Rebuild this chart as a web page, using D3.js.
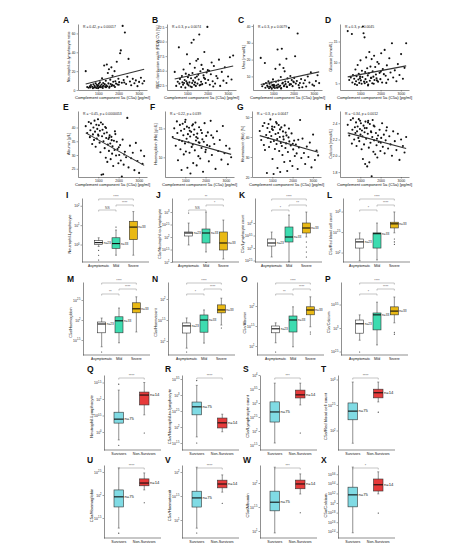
<!DOCTYPE html>
<html>
<head>
<meta charset="utf-8">
<script src="https://cdnjs.cloudflare.com/ajax/libs/d3/7.8.5/d3.min.js"></script>
<style>
body { margin: 0; background: #ffffff; }
svg { font-family: "Liberation Sans", Arial, sans-serif; }
</style>
</head>
<body>
<svg id="fig" width="474" height="552"></svg>
<script>
// ---- scatter data (A-H): same patients, C5a on x ----
const c5aValues = [
 380, 455, 530, 585, 610, 640, 700, 735, 760, 790,
 815, 840, 870, 905, 925, 950, 985, 1010, 1030, 1065,
 1080, 1105, 1130, 1160, 1185, 1210, 1240, 1255, 1290, 1315,
 1340, 1370, 1390, 1420, 1445, 1470, 1500, 1525, 1560, 1590,
 1610, 1645, 1680, 1700, 1735, 1770, 1800, 1840, 1875, 1910,
 1950, 1990, 2030, 2075, 2110, 2160, 2200, 2250, 2310, 2370,
 2430, 2490, 2560, 2620, 2700, 2780, 2850, 2930, 3010, 3100,
 3180, 3260, 1220, 1380, 1540, 1660, 1820, 2010, 2280, 990];
const c5aTicks = [1000, 2000, 3000];

const nlrValues = [
 20, 3.1, 2.4, 4.0, 2.8, 5.2, 3.5, 1.9, 6.1, 2.6,
 4.4, 3.0, 7.2, 2.2, 5.5, 3.8, 4.9, 2.7, 6.6, 3.3,
 8.1, 4.2, 2.9, 5.8, 12.5, 3.6, 7.4, 4.5, 26, 6.2,
 3.4, 9.8, 5.1, 27, 4.0, 18, 7.0, 22, 3.7, 11,
 6.4, 24, 5.4, 15, 8.8, 4.6, 20, 9.3, 6.8, 30,
 5.9, 12, 8.3, 39, 42, 7.7, 68, 10.5, 61, 6.3,
 14, 33, 9.0, 5.0, 11.8, 7.1, 10.2, 4.1, 8.6, 13,
 6.9, 9.6, 2.1, 3.0, 2.5, 4.3, 3.2, 5.6, 7.9, 1.8];
const rdwValues = [
 14.8, 12.4, 13.1, 19.0, 12.8, 13.6, 12.2, 14.1, 13.0, 12.6,
 15.2, 12.9, 13.4, 12.1, 14.5, 13.2, 17.8, 12.7, 13.9, 12.5,
 14.3, 13.0, 16.2, 12.3, 13.7, 19.8, 12.9, 14.6, 13.3, 20.3,
 12.6, 15.5, 13.8, 12.4, 16.7, 14.0, 12.8, 17.0, 13.5, 21.2,
 12.5, 14.9, 13.1, 16.0, 12.7, 15.3, 14.2, 18.2, 13.6, 12.9,
 14.7, 22.5, 13.4, 15.0, 12.6, 14.4, 16.4, 13.2, 15.8, 12.8,
 14.1, 13.7, 16.9, 12.4, 14.8, 13.3, 15.6, 12.9, 14.0, 17.3,
 13.5, 17.6, 12.2, 13.0, 14.3, 12.6, 13.8, 15.1, 12.3, 12.9];
const ureaValues = [
 21.0, 4.1, 5.3, 18.0, 3.2, 6.0, 4.5, 3.8, 7.1, 2.9,
 5.6, 4.0, 3.5, 6.4, 2.7, 4.8, 8.2, 3.6, 5.0, 4.3,
 3.1, 14.5, 6.8, 4.6, 3.3, 26.0, 5.2, 7.5, 3.9, 17.0,
 4.4, 9.6, 3.0, 26.5, 5.8, 6.2, 15.0, 4.1, 13.0, 7.0,
 5.5, 20.5, 3.7, 8.8, 6.6, 39.0, 4.9, 10.2, 5.3, 7.8,
 4.2, 6.9, 9.1, 22.0, 5.7, 7.3, 35.5, 4.8, 6.1, 8.4,
 3.5, 5.9, 7.7, 4.0, 9.9, 6.3, 12.5, 5.1, 4.4, 7.2,
 10.7, 6.0, 3.4, 2.8, 4.7, 3.9, 5.4, 6.5, 3.2, 4.6];
const glucoseValues = [
 17.5, 5.8, 6.4, 16.8, 5.2, 7.0, 6.1, 4.8, 8.3, 5.5,
 6.7, 4.6, 9.4, 5.9, 7.3, 5.1, 6.2, 10.5, 5.7, 4.9,
 8.0, 6.5, 18.6, 17.0, 5.4, 16.0, 7.7, 6.0, 11.2, 5.3,
 8.6, 6.9, 4.7, 7.4, 12.5, 5.6, 9.0, 6.3, 10.8, 5.0,
 7.9, 6.6, 11.6, 5.8, 8.9, 7.1, 6.2, 10.1, 5.4, 9.7,
 7.5, 6.0, 12.2, 5.2, 8.4, 7.2, 13.0, 6.8, 9.3, 5.9,
 11.0, 7.6, 14.6, 6.4, 8.1, 5.5, 9.6, 7.0, 12.0, 6.1,
 8.7, 14.6, 5.0, 4.5, 6.3, 4.9, 5.7, 7.8, 5.1, 6.6];
const albuminValues = [
 40.5, 38.0, 42.0, 36.5, 39.0, 41.5, 34.0, 37.5, 40.0, 35.5,
 42.5, 38.5, 33.0, 41.0, 36.0, 39.5, 43.0, 37.0, 40.8, 34.5,
 38.8, 31.0, 41.8, 22.8, 36.8, 39.2, 23.0, 35.0, 37.8, 32.5,
 40.2, 29.0, 36.2, 38.2, 27.5, 33.8, 35.8, 31.5, 37.2, 34.2,
 28.5, 36.6, 30.5, 33.2, 26.0, 35.2, 31.8, 37.6, 29.8, 34.8,
 32.2, 27.0, 30.0, 33.6, 28.0, 22.2, 35.6, 26.5, 31.2, 29.2,
 43.5, 25.5, 33.4, 28.8, 30.8, 24.5, 34.4, 27.8, 23.5, 31.6,
 26.8, 29.6, 41.2, 39.8, 36.4, 35.4, 38.6, 32.8, 30.2, 37.4];
const hbValues = [
 13.5, 15.0, 12.0, 16.2, 14.2, 9.5, 13.0, 15.6, 11.4, 14.6,
 7.8, 12.8, 15.8, 13.8, 10.5, 14.9, 12.4, 16.5, 11.0, 13.2,
 15.3, 8.2, 14.0, 12.6, 15.1, 10.8, 13.6, 7.2, 14.4, 11.8,
 15.5, 12.2, 9.0, 13.9, 14.8, 11.2, 16.0, 12.9, 8.6, 14.1,
 13.3, 10.2, 15.2, 12.5, 9.8, 14.7, 11.6, 13.1, 7.5, 12.7,
 15.9, 10.9, 13.7, 12.1, 14.3, 9.3, 11.9, 16.3, 10.4, 13.4,
 12.3, 8.0, 14.5, 11.1, 13.0, 9.6, 15.4, 10.7, 12.0, 8.8,
 11.5, 10.0, 14.6, 15.7, 13.5, 12.6, 14.2, 11.3, 13.8, 16.1];
const hctValues = [
 43.0, 38.5, 45.5, 36.0, 47.0, 33.5, 41.0, 22.0, 44.5, 39.5,
 46.5, 35.0, 42.5, 48.8, 37.5, 40.5, 44.0, 29.0, 43.5, 21.5,
 38.0, 45.0, 34.0, 41.5, 47.5, 36.5, 39.0, 24.5, 42.0, 46.0,
 33.0, 40.0, 22.5, 37.0, 44.8, 35.5, 31.0, 42.8, 38.8, 27.5,
 45.8, 34.5, 36.8, 40.8, 23.0, 32.5, 39.8, 37.8, 28.0, 35.8,
 41.8, 25.5, 33.8, 38.2, 30.5, 36.2, 31.8, 24.0, 34.8, 48.5,
 29.5, 39.2, 32.0, 26.5, 35.2, 30.0, 37.2, 24.8, 41.2, 28.5,
 33.2, 30.8, 46.8, 43.8, 40.2, 42.2, 44.2, 36.6, 38.6, 45.2];
const calciumValues = [
 2.38, 2.25, 2.44, 2.15, 2.32, 2.46, 2.20, 2.35, 2.28, 2.41,
 2.12, 2.30, 2.36, 2.22, 2.45, 2.18, 2.33, 2.26, 2.40, 2.08,
 2.31, 2.24, 1.96, 2.37, 2.14, 2.29, 1.90, 2.42, 2.21, 2.34,
 1.87, 2.27, 2.43, 2.10, 1.92, 2.39, 2.16, 2.30, 1.75, 2.23,
 2.44, 2.05, 2.19, 2.36, 2.02, 2.28, 2.13, 1.98, 2.25, 2.17,
 2.32, 2.06, 2.22, 2.40, 2.11, 2.26, 2.03, 2.19, 2.35, 2.09,
 2.24, 2.14, 2.00, 2.30, 2.18, 2.07, 2.27, 1.95, 2.20, 2.12,
 2.04, 2.23, 2.34, 2.41, 2.29, 2.37, 2.21, 2.16, 2.31, 2.43];

const fitIntercepts = [4.3, 13.3, 4.2, 6.2, 39.6, 13.7, 41.8, 2.307];
const fitSlopes = [0.00545, 0.00077, 0.0026, 0.00091, -0.0041, -0.00098, -0.0029, -0.0000667];
const corrLabels = ["R = 0.42, p = 0.00017", "R = 0.3, p = 0.0074", "R = 0.3, p = 0.0079", "R = 0.3, p = 0.0045",
                    "R = \u22120.45, p = 0.0000053", "R = \u22120.22, p = 0.039", "R = \u22120.3, p = 0.0047", "R = \u22120.34, p = 0.0012"];
const scatterTitles = ["Neutrophil-to-lymphocyte ratio", "RBC distribution width (RDW-CV) [%]", "Urea [mmol/L]", "Glucose [mmol/L]",
                       "Albumin [g/L]", "Haemoglobin (Hb) [g/dL]", "Haematocrit (Hct) [%]", "Calcium [mmol/L]"];
const scatterDomains = [[0, 70], [11.7, 23], [1.9, 41.2], [3.4, 19.2], [22, 46], [6.6, 18], [20, 53], [1.74, 2.55]];
const scatterTicks = [[0, 20, 40, 60], [12.5, 15, 17.5, 20, 22.5], [10, 20, 30, 40], [5, 10, 15],
                      [25, 30, 35, 40], [10, 15], [20, 30, 40, 50], [1.8, 2.0, 2.2, 2.4]];

// ---- box plot data (log10 values): [low whisker, q1, median, q3, high whisker] ----
const severityGroups = ["Asymptomatic", "Mild", "Severe"];
const severityCounts = ["n=23", "n=33", "n=33"];
const outcomeGroups = ["Survivors", "Non-Survivors"];
const outcomeCounts = ["n=75", "n=14"];

const statsI = [[-0.1, 0.0, 0.1, 0.2, 0.35], [-0.55, -0.2, 0.05, 0.35, 0.75], [-0.55, 0.25, 0.9, 1.2, 1.7]];
const outliersI = [[-0.3, -0.55, -0.8], [0.9], []];
const statsJ = [[1.68, 2.04, 2.16, 2.2, 2.56], [1.4, 1.76, 2.16, 2.32, 3.0], [1.12, 1.48, 1.76, 2.2, 2.68]];
const outliersJ = [[2.96], [0.98], []];
const statsK = [[2.64, 3.08, 3.2, 3.36, 3.64], [2.45, 3.24, 3.44, 3.84, 4.32], [3.44, 3.6, 3.8, 4.0, 4.44]];
const outliersK = [[], [], [3.24, 3.04, 2.84, 2.64]];
const statsL = [[1.8, 2.11, 2.26, 2.33, 2.48], [1.82, 2.11, 2.46, 2.48, 2.72], [2.48, 2.6, 2.7, 2.74, 2.99]];
const outliersL = [[], [], [2.33, 2.26, 2.2]];
const statsM = [[1.33, 1.68, 1.9, 1.95, 2.05], [1.43, 1.68, 1.98, 2.08, 2.3], [1.7, 2.18, 2.28, 2.43, 2.58]];
const outliersM = [[1.2], [], []];
const statsN = [[0.83, 1.19, 1.36, 1.43, 1.55], [0.95, 1.21, 1.5, 1.62, 1.74], [1.38, 1.67, 1.74, 1.86, 2.02]];
const outliersN = [[0.74], [], [1.31]];
const statsO = [[1.08, 1.33, 1.43, 1.5, 1.58], [0.98, 1.35, 1.65, 1.75, 1.98], [1.48, 1.78, 1.9, 1.98, 2.23]];
const outliersO = [[0.85], [], [1.35, 1.3]];
const statsP = [[2.74, 2.89, 3.09, 3.17, 3.28], [2.64, 2.96, 3.28, 3.32, 3.55], [3.11, 3.28, 3.36, 3.45, 3.66]];
const outliersP = [[2.49], [], [2.91, 2.87]];

const statsQ = [[-0.24, 0.27, 0.39, 0.6, 1.27], [0.52, 0.82, 1.12, 1.21, 1.5]];
const outliersQ = [[-0.4, 1.45], [-0.03]];
const statsR = [[1.69, 2.38, 2.63, 2.78, 3.3], [1.85, 1.97, 2.13, 2.28, 2.4]];
const outliersR = [[3.45, 1.5], []];
const statsS = [[1.57, 2.32, 2.68, 3.04, 3.71], [2.93, 3.18, 3.29, 3.46, 3.71]];
const outliersS = [[], [1.93]];
const statsT = [[1.75, 2.21, 2.38, 2.54, 2.95], [2.56, 2.64, 2.74, 2.81, 2.95]];
const outliersT = [[], [2.36]];
const statsU = [[1.28, 1.74, 1.96, 2.11, 2.59], [2.11, 2.2, 2.26, 2.35, 2.48]];
const outliersU = [[1.17], [1.83]];
const statsV = [[0.83, 1.27, 1.46, 1.6, 2.1], [1.58, 1.67, 1.75, 1.83, 1.94]];
const outliersV = [[0.73], [1.35]];
const statsW = [[0.96, 1.42, 1.6, 1.83, 2.33], [1.77, 1.88, 1.98, 2.06, 2.19]];
const outliersW = [[], [1.38]];
const statsX = [[2.38, 2.92, 3.17, 3.33, 3.75], [3.19, 3.25, 3.38, 3.5, 3.65]];
const outliersX = [[], [2.79]];

const boxTitles = ["Neutrophil-Lymphocyte", "C5a/Neutrophil-to-lymphocyte", "C5a/Lymphocyte count", "C5a/Red blood cell count",
                   "C5a/Haemoglobin", "C5a/Haematocrit", "C5a/Albumin", "C5a/Calcium"];
// [long bracket, asym-mild, mild-severe]
const severitySig = [["****", "NS", "****"], ["**", "NS", "*"], ["****", "*", "**"], ["****", "*", "****"],
                     ["****", "**", "****"], ["****", "*", "****"], ["****", "**", "****"], ["****", "*", "****"]];
const outcomeSig = ["****", "****", "***", "****", "****", "****", "***", "*"];

const severityDomains = [[-0.9, 2.4], [1, 3.56], [2.44, 5.0], [1.77, 3.33], [1.125, 2.95], [0.667, 2.405], [0.775, 2.6], [2.426, 3.979]];
const severityTicks = [[0, 1, 2], [1, 1.5, 2, 2.5, 3], [2.5, 3, 3.5, 4], [2, 2.5, 3], [1.5, 2, 2.5], [1, 1.5, 2], [1, 1.5, 2], [2.5, 3, 3.5]];
const outcomeDomains = [[-0.545, 1.727], [1.281, 3.625], [1.321, 4.0], [1.618, 3.088], [1.065, 2.652], [0.625, 2.146], [0.854, 2.375], [2.271, 3.792]];
const outcomeTicks = [[0, 0.5, 1, 1.5], [1.5, 2, 2.5, 3, 3.5], [1.5, 2, 2.5, 3, 3.5, 4], [2, 2.5, 3], [1.5, 2, 2.5], [1, 1.5, 2], [1, 1.5, 2], [2.4, 2.6, 2.8, 3, 3.2, 3.4, 3.6]];

const severityColors = ["#ffffff", "#3ddcb0", "#e9b914"];
const outcomeColors = ["#80dbe4", "#e63a3a"];

var svg = d3.select("#fig");
var supFmt = d3.format("~g");

function styleAxis(a) {
    a.attr("font-size", 3.4).attr("font-family", "Liberation Sans, Arial, sans-serif");
    a.select(".domain").attr("stroke", "#444").attr("stroke-width", 0.6);
    a.selectAll(".tick line").attr("stroke", "#444").attr("stroke-width", 0.5);
    a.selectAll(".tick text").attr("fill", "#222");
}

function panelLetter(txt, x, y) {
    svg.append("text").attr("x", x).attr("y", y).attr("font-size", 8.5).attr("font-weight", "bold")
        .attr("fill", "#111").text(txt);
}

function drawScatter(i, yValues, x0, top, bottom, letter) {
    var w = 69;
    var x = d3.scaleLinear().domain([0, 3400]).range([x0, x0 + w]);
    var y = d3.scaleLinear().domain(scatterDomains[i]).range([bottom, top]);
    var g = svg.append("g");

    var xa = g.append("g").attr("transform", "translate(0," + bottom + ")")
        .call(d3.axisBottom(x).tickValues(c5aTicks).tickSize(1.5).tickSizeOuter(0).tickPadding(1).tickFormat(d3.format("d")));
    styleAxis(xa);
    var ya = g.append("g").attr("transform", "translate(" + x0 + ",0)")
        .call(d3.axisLeft(y).tickValues(scatterTicks[i]).tickSize(1.5).tickSizeOuter(0).tickPadding(1)
            .tickFormat(i == 1 || i == 7 ? d3.format(".1f") : d3.format("d")));
    styleAxis(ya);

    g.append("g").selectAll("circle")
        .data(c5aValues)
        .enter()
        .append("circle")
        .attr("cx", function (d) { return x(d); })
        .attr("cy", function (d, k) { return y(yValues[k]); })
        .attr("r", 1.05)
        .attr("fill", "#111");

    var xmin = d3.min(c5aValues), xmax = d3.max(c5aValues);
    g.append("line")
        .attr("x1", x(xmin)).attr("y1", y(fitIntercepts[i] + fitSlopes[i] * xmin))
        .attr("x2", x(xmax)).attr("y2", y(fitIntercepts[i] + fitSlopes[i] * xmax))
        .attr("stroke", "#333").attr("stroke-width", 1.1);

    g.append("text").attr("x", x0 + 5).attr("y", top + 4).attr("font-size", 3.4).attr("fill", "#222").text(corrLabels[i]);
    g.append("text").attr("x", x0 + w / 2).attr("y", bottom + 8.5).attr("text-anchor", "middle")
        .attr("font-size", 4.1).attr("fill", "#111").text("Complement component 5a (C5a) [pg/ml]");
    g.append("text").attr("transform", "translate(" + (x0 - 8.5) + "," + ((top + bottom) / 2) + ") rotate(-90)")
        .attr("text-anchor", "middle").attr("font-size", 3.8).attr("fill", "#111").text(scatterTitles[i]);
    panelLetter(letter, x0 - 15, top - 1);
}

function logTicks(a) {
    a.selectAll(".tick text").text(null).each(function (d) {
        var t = d3.select(this);
        t.append("tspan").text("10");
        t.append("tspan").attr("dy", -1.3).attr("font-size", 2.6).text(supFmt(d));
    });
}

function bracket(g, x1, x2, yy, label, fs) {
    g.append("path").attr("d", "M" + x1 + "," + (yy + 1.6) + "V" + yy + "H" + x2 + "V" + (yy + 1.6))
        .attr("fill", "none").attr("stroke", "#888").attr("stroke-width", 0.5);
    g.append("text").attr("x", (x1 + x2) / 2).attr("y", yy - 0.8).attr("text-anchor", "middle")
        .attr("font-size", fs).attr("fill", "#555").text(label);
}

function drawBoxPanel(cfg) {
    var y = d3.scaleLinear().domain(cfg.domain).range([cfg.bottom, cfg.top]);
    var x = d3.scaleBand().domain(cfg.groups).range(cfg.xr);
    var g = svg.append("g");
    var bw = cfg.boxW;

    var ya = g.append("g").attr("transform", "translate(" + cfg.x0 + ",0)")
        .call(d3.axisLeft(y).tickValues(cfg.ticks).tickSize(1.5).tickSizeOuter(0).tickPadding(1));
    styleAxis(ya);
    logTicks(ya);
    g.append("line").attr("x1", cfg.x0).attr("x2", cfg.x0 + cfg.w).attr("y1", cfg.bottom).attr("y2", cfg.bottom)
        .attr("stroke", "#444").attr("stroke-width", 0.6);

    cfg.groups.forEach(function (grp, i) {
        var s = cfg.stats[i];
        var cx = x(grp) + x.bandwidth() / 2;
        g.append("line").attr("x1", cx).attr("x2", cx).attr("y1", y(s[0])).attr("y2", y(s[4]))
            .attr("stroke", "#444").attr("stroke-width", 0.6);
        [s[0], s[4]].forEach(function (v) {
            g.append("line").attr("x1", cx - 1).attr("x2", cx + 1).attr("y1", y(v)).attr("y2", y(v))
                .attr("stroke", "#444").attr("stroke-width", 0.5);
        });
        g.append("rect").attr("x", cx - bw / 2).attr("y", y(s[3])).attr("width", bw).attr("height", y(s[1]) - y(s[3]))
            .attr("fill", cfg.colors[i]).attr("stroke", "#333").attr("stroke-width", 0.6);
        g.append("line").attr("x1", cx - bw / 2).attr("x2", cx + bw / 2).attr("y1", y(s[2])).attr("y2", y(s[2]))
            .attr("stroke", "#111").attr("stroke-width", 1.1);
        g.selectAll(null).data(cfg.outliers[i]).enter().append("circle")
            .attr("cx", cx).attr("cy", function (d) { return y(d); }).attr("r", 0.55).attr("fill", "#222");
        g.append("text").attr("x", cx + bw / 2 + 1).attr("y", y(s[2]) + 1.2).attr("font-size", cfg.nSize)
            .attr("fill", "#222").text(cfg.counts[i]);
        g.append("text").attr("x", cx).attr("y", cfg.bottom + 5).attr("text-anchor", "middle")
            .attr("font-size", cfg.catSize).attr("fill", "#111").text(grp);
    });

    var c = cfg.groups.map(function (grp) { return x(grp) + x.bandwidth() / 2; });
    if (c.length == 3) {
        bracket(g, c[0], c[2], cfg.top + 1, cfg.sig[0], 3.4);
        bracket(g, c[1], c[2], cfg.top + 7, cfg.sig[2], 3.4);
        bracket(g, c[0], c[1], cfg.top + 12, cfg.sig[1], 3.4);
    } else {
        bracket(g, c[0], c[1], cfg.top + 3, cfg.sig, 3.6);
    }

    g.append("text").attr("transform", "translate(" + (cfg.x0 - 11) + "," + ((cfg.top + cfg.bottom) / 2 + 4) + ") rotate(-90)")
        .attr("text-anchor", "middle").attr("font-size", cfg.titleSize).attr("fill", "#111").text(cfg.title);
    panelLetter(cfg.letter, cfg.lx, cfg.ly);
}

// ---- scatter panels ----
var scatterY = [nlrValues, rdwValues, ureaValues, glucoseValues, albuminValues, hbValues, hctValues, calciumValues];
var scatterX0 = [78, 167, 253, 340, 78, 165, 252, 340];
var letters = "ABCDEFGHIJKLMNOPQRSTUVWX".split("");
scatterY.forEach(function (vals, i) {
    var top = i < 4 ? 24 : 111;
    var bottom = i < 4 ? 90 : 177;
    drawScatter(i, vals, scatterX0[i], top, bottom, letters[i]);
});

// ---- severity panels I-P ----
var sevStats = [statsI, statsJ, statsK, statsL, statsM, statsN, statsO, statsP];
var sevOut = [outliersI, outliersJ, outliersK, outliersL, outliersM, outliersN, outliersO, outliersP];
var sevX0 = [82, 172, 255, 343, 83, 168, 257, 341];
sevStats.forEach(function (st, i) {
    var row = i < 4 ? { top: 198, bottom: 262, ly: 198 } : { top: 282, bottom: 355, ly: 282 };
    var x0 = sevX0[i];
    drawBoxPanel({
        letter: letters[8 + i], lx: x0 - 16, ly: row.ly,
        x0: x0, w: 67, top: row.top, bottom: row.bottom,
        xr: i < 4 ? [x0 + 8, x0 + 60] : [x0 + 10, x0 + 62],
        groups: severityGroups, counts: severityCounts, colors: severityColors,
        stats: st, outliers: sevOut[i], domain: severityDomains[i], ticks: severityTicks[i],
        sig: severitySig[i], title: boxTitles[i], boxW: 8, nSize: 3.2, catSize: 3.4, titleSize: 3.8
    });
});

// ---- outcome panels Q-X ----
var outStats = [statsQ, statsR, statsS, statsT, statsU, statsV, statsW, statsX];
var outOut = [outliersQ, outliersR, outliersS, outliersT, outliersU, outliersV, outliersW, outliersX];
var outX0 = [104, 182, 260, 338, 104, 182, 260, 338];
outStats.forEach(function (st, i) {
    var row = i < 4 ? { top: 375, bottom: 450, ly: 372 } : { top: 465, bottom: 538, ly: 463 };
    var x0 = outX0[i];
    drawBoxPanel({
        letter: letters[16 + i], lx: x0 - 17, ly: row.ly,
        x0: x0, w: 57, top: row.top, bottom: row.bottom,
        xr: [x0 + 2, x0 + 53],
        groups: outcomeGroups, counts: outcomeCounts, colors: outcomeColors,
        stats: st, outliers: outOut[i], domain: outcomeDomains[i], ticks: outcomeTicks[i],
        sig: outcomeSig[i], title: boxTitles[i], boxW: 9.5, nSize: 4.2, catSize: 3.6, titleSize: 4.2
    });
});
</script>
</body>
</html>
